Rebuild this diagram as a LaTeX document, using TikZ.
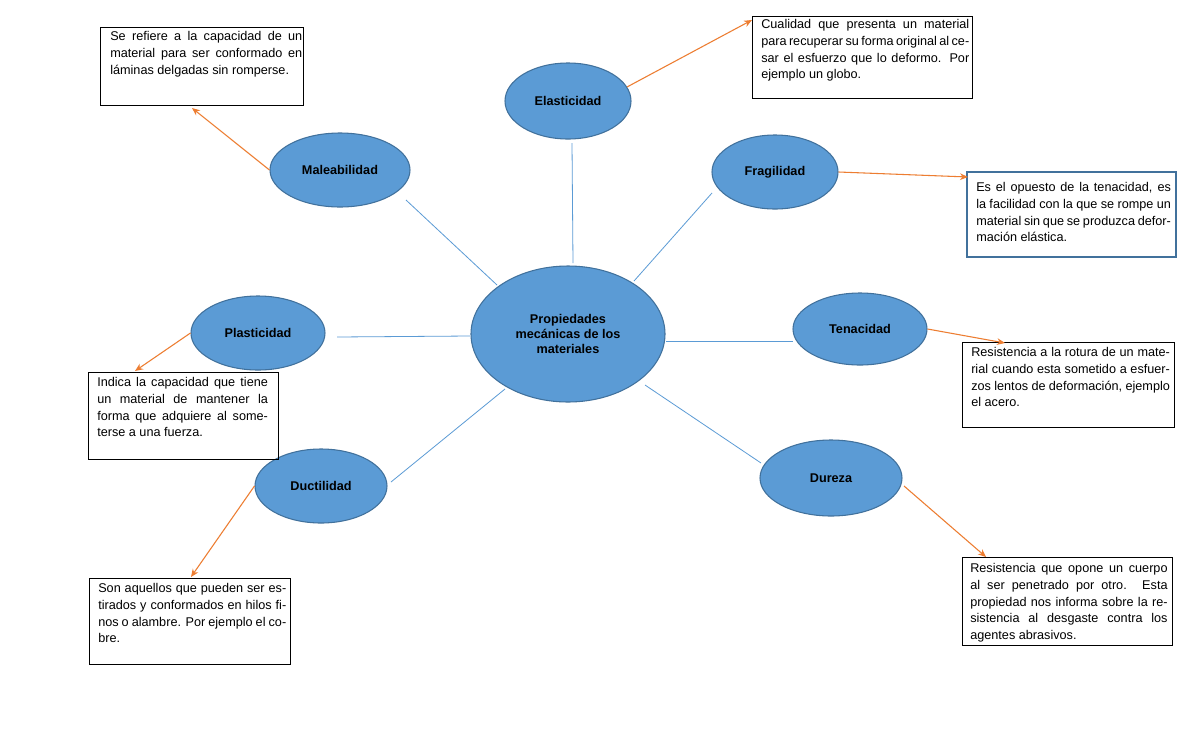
\documentclass[tikz,border=0pt]{standalone}
\usepackage{fontspec}
\setmainfont{Liberation Sans}
\usetikzlibrary{arrows.meta,shapes.geometric}
\definecolor{ef}{HTML}{5B9BD5}
\definecolor{eb}{HTML}{41719C}
\definecolor{orl}{HTML}{ED7D31}
\tikzset{
 prop/.style={ellipse, draw=eb, fill=ef, line width=0.8pt, font=\bfseries\fontsize{9.5}{11}\selectfont, align=center, inner sep=0pt},
 link/.style={draw=ef, line width=0.6pt},
 arr/.style={draw=orl, line width=0.8pt, -{Stealth[length=6pt,width=5pt]}},
 txt/.style={anchor=north west, align=justify, inner sep=0pt, font=\fontsize{9.5}{12.6}\selectfont},
 bx/.style={draw=black, line width=0.8pt, anchor=north west, inner sep=0pt}
}
\begin{document}
\begin{tikzpicture}[x=0.75pt,y=-0.75pt]
\useasboundingbox (0,0) rectangle (1200,729);
\fill[white] (0,0) rectangle (1200,729);
\node[prop, minimum width=194*0.75, minimum height=136*0.75] (c) at (568,334) {Propiedades\\mecánicas de los\\materiales};
\node[prop, minimum width=126*0.75, minimum height=76*0.75] (el) at (568,101) {Elasticidad};
\node[prop, minimum width=140*0.75, minimum height=74*0.75] (ma) at (340,170) {Maleabilidad};
\node[prop, minimum width=126*0.75, minimum height=74*0.75] (fr) at (775,172) {Fragilidad};
\node[prop, minimum width=134*0.75, minimum height=74*0.75] (pl) at (258,333) {Plasticidad};
\node[prop, minimum width=134*0.75, minimum height=72*0.75] (te) at (860,329) {Tenacidad};
\node[prop, minimum width=132*0.75, minimum height=74*0.75] (du) at (321,486) {Ductilidad};
\node[prop, minimum width=142*0.75, minimum height=76*0.75] (dz) at (831,478) {Dureza};
\coordinate (a1) at (572,143); \coordinate (b1) at (573,263);
\coordinate (a2) at (406,200); \coordinate (b2) at (497,285);
\coordinate (a3) at (712,193); \coordinate (b3) at (634,281);
\coordinate (a4) at (337,337); \coordinate (b4) at (470,336);
\coordinate (a5) at (666,341); \coordinate (b5) at (793,341);
\coordinate (a6) at (505,389); \coordinate (b6) at (391,482);
\coordinate (a7) at (645,385); \coordinate (b7) at (761,463);
\foreach \i in {1,...,7} \draw[link] (a\i) -- (b\i);
\node[bx, minimum width=203*0.75, minimum height=78*0.75] (t1) at (100,27) {};
\node[txt, text width=144pt] (x1) at (110,31) {Se refiere a la capacidad de un material para ser conformado en láminas delgadas sin romperse.};
\node[bx, minimum width=220*0.75, minimum height=82*0.75] (t2) at (752,16) {};
\node[txt, text width=156pt] (x2) at (761,19) {Cualidad que presenta un material para recuperar su forma original al cesar el esfuerzo que lo deformo. Por ejemplo un globo.};
\node[bx, draw=eb, line width=1.2pt, minimum width=209*0.75, minimum height=85*0.75] (t3) at (966,171) {};
\node[txt, text width=146pt] (x3) at (976,182) {Es el opuesto de la tenacidad, es la facilidad con la que se rompe un material sin que se produzca deformación elástica.};
\node[bx, minimum width=212*0.75, minimum height=85*0.75] (t4) at (962,342) {};
\node[txt, text width=149pt] (x4) at (971,347) {Resistencia a la rotura de un material cuando esta sometido a esfuerzos lentos de deformación, ejemplo el acero.};
\node[bx, minimum width=190*0.75, minimum height=87*0.75] (t5) at (88,372) {};
\node[txt, text width=128pt] (x5) at (97,377) {Indica la capacidad que tiene un material de mantener la forma que adquiere al someterse a una fuerza.};
\node[bx, minimum width=201*0.75, minimum height=86*0.75] (t6) at (89,578) {};
\node[txt, text width=141pt] (x6) at (98,583) {Son aquellos que pueden ser estirados y conformados en hilos finos o alambre. Por ejemplo el cobre.};
\node[bx, minimum width=210*0.75, minimum height=88*0.75] (t7) at (962,557) {};
\node[txt, text width=148pt] (x7) at (970,563) {Resistencia que opone un cuerpo al ser penetrado por otro. Esta propiedad nos informa sobre la resistencia al desgaste contra los agentes abrasivos.};
\coordinate (o1) at (192,108); \coordinate (o2) at (752,20); \coordinate (o3) at (968,177);
\coordinate (o4) at (1005,343); \coordinate (o5) at (135,371); \coordinate (o6) at (191,577);
\coordinate (o7) at (986,557);
\coordinate (s2) at (627,87); \coordinate (s7) at (904,486);
\draw[arr] (ma.west) -- (o1);
\draw[arr] (s2) -- (o2);
\draw[arr] (fr.east) -- (o3);
\draw[arr] (te.east) -- (o4);
\draw[arr] (pl.west) -- (o5);
\draw[arr] (du.west) -- (o6);
\draw[arr] (s7) -- (o7);
\end{tikzpicture}
\end{document}
